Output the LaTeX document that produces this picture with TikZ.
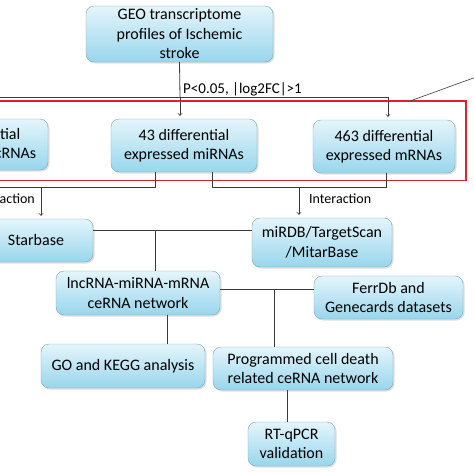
\documentclass[tikz,border=0pt]{standalone}
\usepackage{fontspec}
\setmainfont{Carlito}
\usetikzlibrary{shadows}
\definecolor{boxline}{HTML}{7AA4B6}
\definecolor{boxtop}{HTML}{E4F5FB}
\definecolor{boxbottom}{HTML}{98D6EC}
\definecolor{redframe}{HTML}{D7262B}
\definecolor{linkgray}{HTML}{3A3A3A}

\begin{document}
\begin{tikzpicture}[x=1pt, y=-1pt,
  box/.style={draw=boxline, rounded corners=8pt, top color=boxtop, bottom color=boxbottom, align=center, inner sep=0pt, font=\fontsize{16}{19.5}\selectfont, drop shadow={opacity=0.25, shadow xshift=1.5pt, shadow yshift=-1.5pt}},
  link/.style={draw=linkgray, line width=0.8pt},
  arr/.style={link, ->, shorten >=3pt},
  lbl/.style={font=\fontsize{14}{17}\selectfont, inner sep=1pt}]
\useasboundingbox (0,0) rectangle (474,474);
\clip (0,0) rectangle (474,474);

\node[box, minimum width=187pt, minimum height=56pt] (geo) at (179.5,34) {GEO transcriptome\\profiles of Ischemic\\stroke};
\node[box, minimum width=146pt, minimum height=51pt] (lnc) at (-25,144.5) {65 differential\\expressed lncRNAs};
\node[box, minimum width=146pt, minimum height=53pt] (mir) at (184,145.5) {43 differential\\expressed miRNAs};
\node[box, minimum width=142pt, minimum height=53pt] (mrna) at (384,146.5) {463 differential\\expressed mRNAs};
\node[box, minimum width=114pt, minimum height=43pt] (star) at (36,240.5) {Starbase};
\node[box, minimum width=140pt, minimum height=49pt] (mirdb) at (322,242.5) {miRDB/TargetScan\\/MitarBase};
\node[box, minimum width=164pt, minimum height=44pt] (net) at (138,293) {lncRNA-miRNA-mRNA\\ceRNA network};
\node[box, minimum width=149pt, minimum height=43pt] (ferr) at (388.5,297.5) {FerrDb and\\Genecards datasets};
\node[box, minimum width=164pt, minimum height=44pt] (go) at (123,366) {GO and KEGG analysis};
\node[box, minimum width=180pt, minimum height=43pt] (pcd) at (303,368.5) {Programmed cell death\\related ceRNA network};
\node[box, minimum width=87pt, minimum height=44pt] (rt) at (291.5,444) {RT-qPCR\\validation};

\coordinate (split) at (180,97);
\draw[link] (geo.south) -- (split);
\draw[arr] (split) -- (split |- mir.north);
\draw[arr] (split) -| ([xshift=4pt]mrna.north);
\draw[arr] (split) -| (lnc.north);
\node[lbl, font=\fontsize{15}{17}\selectfont, anchor=south west] (filter) at ([xshift=2pt]split) {P<0.05, |log2FC|>1};

\coordinate (frameA) at (-10,101);
\coordinate (frameB) at (466,180.5);
\coordinate (note) at (490,72);
\draw[redframe, line width=1.6pt] (frameA) rectangle (frameB);
\draw[link, line width=0.6pt] (410,101) -- (note);

\draw[link] ([xshift=-29pt]mir.south) -- ++(0,15) -| (lnc.south);
\draw[link] ([xshift=28pt]mir.south) -- ++(0,15) -| ([xshift=2pt]mrna.south);
\coordinate (lhub) at (41,187);
\coordinate (rhub) at (299,187);
\draw[arr] (lhub) -- (lhub |- star.north);
\draw[arr] (rhub) -- (rhub |- mirdb.north);
\node[lbl, anchor=east] (lint) at (36,199) {Interaction};
\node[lbl, anchor=west] (rint) at (308,199) {Interaction};

\coordinate (dbline) at (155,230);
\draw[link] (star.east |- dbline) -- (mirdb.west |- dbline);
\draw[link] (dbline) -- (dbline |- net.north);
\coordinate (ferrline) at (274,289);
\draw[link] (net.east |- ferrline) -- (ferr.west |- ferrline);
\draw[link] (ferrline) -- (ferrline |- pcd.north);
\draw[link] ([xshift=29pt]net.south) -- ([xshift=29pt]net.south |- go.north);
\draw[link] ([xshift=-16pt]pcd.south) -- ([xshift=-16pt]pcd.south |- rt.north);
\end{tikzpicture}
\end{document}
